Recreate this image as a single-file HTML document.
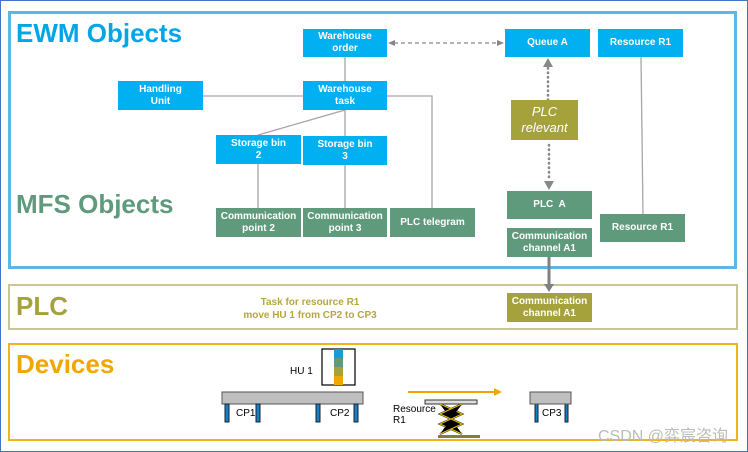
<!DOCTYPE html>
<html><head><meta charset="utf-8"><style>
body{margin:0;width:748px;height:452px;overflow:hidden;background:#fff;font-family:"Liberation Sans","Noto Sans CJK SC",sans-serif}
.a{position:absolute;box-sizing:border-box;display:flex;align-items:center;justify-content:center;text-align:center;color:#fff;font-weight:bold;font-size:10px;line-height:12px}
.b{background:#00b0f0}.g{background:#5f9a7c}.o{background:#a5a23c}
.t{position:absolute;font-weight:bold;white-space:nowrap}
</style></head><body>
<div style="position:absolute;left:0;top:0;width:748px;height:452px;box-sizing:border-box;border:1px solid #4472c4"></div>
<div style="position:absolute;left:8px;top:11px;width:729px;height:258px;box-sizing:border-box;border:3px solid #5bb8e4"></div>
<div style="position:absolute;left:8px;top:284px;width:730px;height:46px;box-sizing:border-box;border:2px solid #c9c68e"></div>
<div style="position:absolute;left:8px;top:343px;width:730px;height:98px;box-sizing:border-box;border:2px solid #f2b21e"></div>
<div class="t" style="left:16px;top:18px;font-size:26px;color:#00a6e6">EWM Objects</div>
<div class="t" style="left:16px;top:189px;font-size:26px;color:#5f9a7c">MFS Objects</div>
<div class="t" style="left:16px;top:291px;font-size:26px;color:#a5a23c">PLC</div>
<div class="t" style="left:16px;top:349px;font-size:26px;color:#f0a800">Devices</div>
<div class="t" style="left:225px;top:296px;width:170px;text-align:center;font-size:10px;line-height:13px;color:#b5a740">Task for resource R1<br>move HU 1 from CP2 to CP3</div>
<svg style="position:absolute;left:0;top:0" width="748" height="452">
<g stroke="#a6a6a6" stroke-width="1.3" fill="none">
<line x1="345" y1="57" x2="345" y2="81"/><line x1="203" y1="96" x2="303" y2="96"/>
<line x1="345" y1="110" x2="258" y2="135"/><line x1="345" y1="110" x2="345" y2="136"/>
<line x1="258" y1="164" x2="258" y2="208"/><line x1="345" y1="164" x2="345" y2="208"/>
<polyline points="387,96 432,96 432,208"/><line x1="641" y1="57" x2="643" y2="214"/>
</g>
<line x1="394" y1="43" x2="498" y2="43" stroke="#888" stroke-width="1.3" stroke-dasharray="4,3"/>
<polygon points="388,43 395,40 395,46" fill="#888"/><polygon points="504,43 497,40 497,46" fill="#888"/>
<line x1="548" y1="68" x2="548" y2="100" stroke="#888" stroke-width="2.5" stroke-dasharray="0.5,4" stroke-linecap="round"/>
<line x1="549" y1="145" x2="549" y2="180" stroke="#888" stroke-width="2.5" stroke-dasharray="0.5,4" stroke-linecap="round"/>
<polygon points="548,58 543,67 553,67" fill="#888"/><polygon points="549,190 544,181 554,181" fill="#888"/>
<line x1="549" y1="257" x2="549" y2="286" stroke="#808080" stroke-width="3"/><polygon points="549,292 544,284 554,284" fill="#808080"/>
<rect x="322" y="349" width="33" height="36" fill="#fff" stroke="#000" stroke-width="1.2"/>
<rect x="334" y="349" width="9" height="9" fill="#1a9bd7"/><rect x="334" y="358" width="9" height="9" fill="#5f9a7c"/><rect x="334" y="367" width="9" height="9" fill="#a5a23c"/><rect x="334" y="376" width="9" height="9" fill="#f0a800"/>
<rect x="222" y="392" width="141" height="12" fill="#bfbfbf" stroke="#555"/>
<g fill="#1a7fc0" stroke="#123"><rect x="225" y="404" width="4" height="18"/><rect x="256" y="404" width="4" height="18"/><rect x="316" y="404" width="4" height="18"/><rect x="354" y="404" width="4" height="18"/><rect x="535" y="404" width="3" height="18"/><rect x="565" y="404" width="3" height="18"/></g>
<rect x="530" y="392" width="41" height="12" fill="#bfbfbf" stroke="#555"/>
<line x1="408" y1="392" x2="496" y2="392" stroke="#f0a800" stroke-width="2"/><polygon points="502,392 494,388 494,396" fill="#f0a800"/>
<rect x="425" y="400" width="52" height="4" fill="#ddd" stroke="#333"/>
<g stroke="#222" stroke-width="2"><polyline points="440,404 462,414 440,424 462,434"/><polyline points="462,404 440,414 462,424 440,434"/></g>
<g stroke="#e6c200" stroke-width="1"><polyline points="440,404 462,414 440,424 462,434"/><polyline points="462,404 440,414 462,424 440,434"/></g>
<rect x="438" y="435" width="42" height="3" fill="#8a7a40"/>
</svg>
<div class="a b" style="left:303px;top:29px;width:84px;height:28px">Warehouse<br>order</div>
<div class="a b" style="left:505px;top:29px;width:85px;height:28px">Queue A</div>
<div class="a b" style="left:598px;top:29px;width:85px;height:28px">Resource R1</div>
<div class="a b" style="left:118px;top:81px;width:85px;height:29px">Handling<br>Unit</div>
<div class="a b" style="left:303px;top:81px;width:84px;height:29px">Warehouse<br>task</div>
<div class="a b" style="left:216px;top:135px;width:85px;height:29px">Storage bin<br>2</div>
<div class="a b" style="left:303px;top:136px;width:84px;height:29px">Storage bin<br>3</div>
<div class="a g" style="left:216px;top:208px;width:85px;height:29px">Communication<br>point 2</div>
<div class="a g" style="left:303px;top:208px;width:84px;height:29px">Communication<br>point 3</div>
<div class="a g" style="left:390px;top:208px;width:85px;height:29px">PLC telegram</div>
<div class="a o" style="left:511px;top:100px;width:67px;height:40px;font-size:13px;line-height:16px;font-style:italic;font-weight:normal">PLC<br>relevant</div>
<div class="a g" style="left:507px;top:191px;width:85px;height:28px">PLC&nbsp; A</div>
<div class="a g" style="left:507px;top:228px;width:85px;height:29px">Communication<br>channel A1</div>
<div class="a g" style="left:600px;top:214px;width:85px;height:28px">Resource R1</div>
<div class="a o" style="left:507px;top:293px;width:85px;height:29px">Communication<br>channel A1</div>
<div class="t" style="left:290px;top:366px;font-size:10px;font-weight:normal;color:#000">HU 1</div>
<div class="t" style="left:236px;top:408px;font-size:10px;font-weight:normal">CP1</div>
<div class="t" style="left:330px;top:408px;font-size:10px;font-weight:normal">CP2</div>
<div class="t" style="left:542px;top:408px;font-size:10px;font-weight:normal">CP3</div>
<div class="t" style="left:393px;top:404px;font-size:10px;line-height:11px;font-weight:normal">Resource<br>R1</div>
<div class="t" style="left:598px;top:422px;font-size:16px;font-weight:normal;color:#bbb">CSDN @弈宸咨询</div>
</body></html>
